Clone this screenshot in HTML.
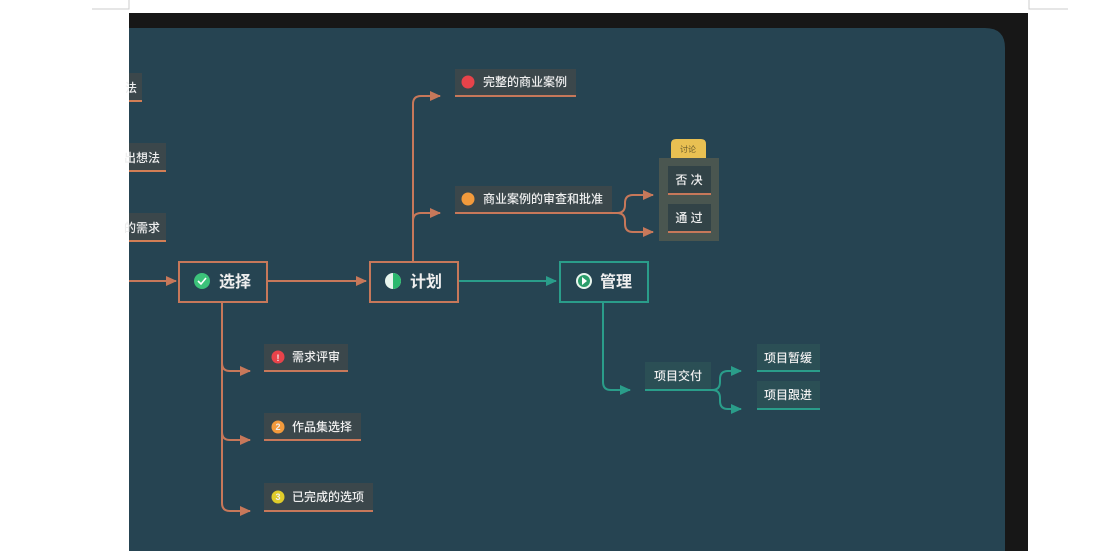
<!DOCTYPE html>
<html><head><meta charset="utf-8"><style>
html,body{margin:0;padding:0;background:#fff;}
svg{display:block;}
text{font-family:"Liberation Sans","Noto Sans CJK SC",sans-serif;fill:#eeeeee;}
.c{font-weight:500;}
</style></head><body>
<svg width="1115" height="551" viewBox="0 0 1115 551" xmlns="http://www.w3.org/2000/svg">
<defs>
<marker id="ao" markerWidth="11" markerHeight="10" refX="10" refY="5" orient="auto" markerUnits="userSpaceOnUse"><path d="M0,0 L11,5 L0,10 z" fill="#c7785a"/></marker>
<marker id="at" markerWidth="11" markerHeight="10" refX="10" refY="5" orient="auto" markerUnits="userSpaceOnUse"><path d="M0,0 L11,5 L0,10 z" fill="#2a9d8a"/></marker>
</defs>
<path d="M129,0 V9 H92" stroke="#ccc" fill="none" stroke-width="1"/>
<path d="M1029,0 V9 H1068" stroke="#ccc" fill="none" stroke-width="1"/>
<rect x="129" y="13" width="899" height="538" fill="#171717"/>
<path d="M129,28 H985 Q1005,28 1005,48 V551 H129 Z" fill="#264452"/>

<g class="c">
<rect x="129" y="73" width="13" height="28" fill="#3b474b"/><rect x="129" y="100" width="13" height="2" fill="#d27e55"/>
<text x="125" y="92" font-size="12" class="c">法</text>
<rect x="129" y="143" width="37" height="28" fill="#3b474b"/><rect x="129" y="170" width="37" height="2" fill="#d27e55"/>
<text x="124" y="162" font-size="12" class="c">出想法</text>
<rect x="129" y="213" width="37" height="28" fill="#3b474b"/><rect x="129" y="240" width="37" height="2" fill="#d27e55"/>
<text x="124" y="232" font-size="12" class="c">的需求</text>
</g>

<g stroke="#c7785a" stroke-width="2" fill="none">
<line x1="129" y1="281" x2="176" y2="281" marker-end="url(#ao)"/>
<line x1="267" y1="281" x2="366" y2="281" marker-end="url(#ao)"/>
<path d="M222,302 V503 Q222,511 230,511 H250" marker-end="url(#ao)"/>
<path d="M222,363 Q222,371 230,371 H250" marker-end="url(#ao)"/>
<path d="M222,432 Q222,440 230,440 H250" marker-end="url(#ao)"/>
<path d="M413,262 V104 Q413,96 421,96 H440" marker-end="url(#ao)"/>
<path d="M413,221 Q413,213 421,213 H440" marker-end="url(#ao)"/>
<path d="M612,213 H617 Q625,213 625,205 V203 Q625,195 633,195 H653" marker-end="url(#ao)"/>
<path d="M617,213 Q625,213 625,221 V224 Q625,232 633,232 H653" marker-end="url(#ao)"/>
</g>
<g stroke="#2a9d8a" stroke-width="2" fill="none">
<line x1="458" y1="281" x2="556" y2="281" marker-end="url(#at)"/>
<path d="M603,302 V382 Q603,390 611,390 H630" marker-end="url(#at)"/>
<path d="M711,390 H712 Q720,390 720,382 V379 Q720,371 728,371 H741" marker-end="url(#at)"/>
<path d="M712,390 Q720,390 720,398 V401 Q720,409 728,409 H741" marker-end="url(#at)"/>
</g>

<rect x="179" y="262" width="88" height="40" fill="#264452" stroke="#c7785a" stroke-width="2"/>
<circle cx="202" cy="281" r="8" fill="#3cc27a"/><path d="M198,281 l3,3 l5,-6" stroke="#fff" stroke-width="1.6" fill="none"/>
<text x="219" y="287" font-size="16" font-weight="bold">选择</text>
<rect x="370" y="262" width="88" height="40" fill="#264452" stroke="#c7785a" stroke-width="2"/>
<circle cx="393" cy="281" r="8" fill="#e8f5ee"/><path d="M393,273 A8,8 0 0 1 393,289 Z" fill="#2cb86e"/>
<text x="410" y="287" font-size="16" font-weight="bold">计划</text>
<rect x="560" y="262" width="88" height="40" fill="#264452" stroke="#2a9d8a" stroke-width="2"/>
<circle cx="584" cy="281" r="8" fill="#e8f5ee"/><circle cx="584" cy="281" r="6" fill="#2a9d6a"/><path d="M582,277 L587,281 L582,285 Z" fill="#fff"/>
<text x="600" y="287" font-size="16" font-weight="bold">管理</text>

<rect x="455" y="69" width="121" height="27" fill="#3b474b"/><rect x="455" y="95" width="121" height="2" fill="#c7785a"/>
<circle cx="468" cy="82" r="6.5" fill="#e8434a"/>
<text x="483" y="86" font-size="12" class="c">完整的商业案例</text>
<rect x="455" y="186" width="157" height="27" fill="#3b474b"/><rect x="455" y="212" width="157" height="2" fill="#c7785a"/>
<circle cx="468" cy="199" r="6.5" fill="#f29a3c"/>
<text x="483" y="203" font-size="12" class="c">商业案例的审查和批准</text>

<path d="M671,158 V144 Q671,139 676,139 H701 Q706,139 706,144 V158 Z" fill="#e9c052"/>
<text x="688" y="152" font-size="8" text-anchor="middle" style="fill:#6a5a2a">讨论</text>
<rect x="659" y="158" width="60" height="83" fill="#4a5650"/>
<rect x="668" y="166" width="43" height="27" fill="#324347"/><rect x="668" y="193" width="43" height="2" fill="#c7785a"/>
<text x="689" y="184" font-size="12" text-anchor="middle" class="c">否 决</text>
<rect x="668" y="204" width="43" height="27" fill="#324347"/><rect x="668" y="231" width="43" height="2" fill="#c7785a"/>
<text x="689" y="222" font-size="12" text-anchor="middle" class="c">通 过</text>

<rect x="264" y="344" width="84" height="27" fill="#3b474b"/><rect x="264" y="370" width="84" height="2" fill="#c7785a"/>
<circle cx="278" cy="357" r="6.5" fill="#e8434a"/><text x="278" y="361" font-size="9" text-anchor="middle" font-weight="bold">!</text>
<text x="292" y="361" font-size="12" class="c">需求评审</text>
<rect x="264" y="413" width="97" height="27" fill="#3b474b"/><rect x="264" y="439" width="97" height="2" fill="#c7785a"/>
<circle cx="278" cy="427" r="6.5" fill="#f29a3c"/><text x="278" y="430" font-size="9" text-anchor="middle" font-weight="bold">2</text>
<text x="292" y="431" font-size="12" class="c">作品集选择</text>
<rect x="264" y="483" width="109" height="27" fill="#3b474b"/><rect x="264" y="510" width="109" height="2" fill="#c7785a"/>
<circle cx="278" cy="497" r="6.5" fill="#e0cc2a"/><text x="278" y="500" font-size="9" text-anchor="middle" font-weight="bold">3</text>
<text x="292" y="501" font-size="12" class="c">已完成的选项</text>

<rect x="645" y="362" width="66" height="27" fill="#2b4f55"/><rect x="645" y="389" width="66" height="2" fill="#2a9d8a"/>
<text x="678" y="380" font-size="12" text-anchor="middle" class="c">项目交付</text>
<rect x="757" y="344" width="63" height="27" fill="#2b4f55"/><rect x="757" y="370" width="63" height="2" fill="#2a9d8a"/>
<text x="788" y="362" font-size="12" text-anchor="middle" class="c">项目暂缓</text>
<rect x="757" y="381" width="63" height="27" fill="#2b4f55"/><rect x="757" y="408" width="63" height="2" fill="#2a9d8a"/>
<text x="788" y="399" font-size="12" text-anchor="middle" class="c">项目跟进</text>
</svg>
</body></html>
